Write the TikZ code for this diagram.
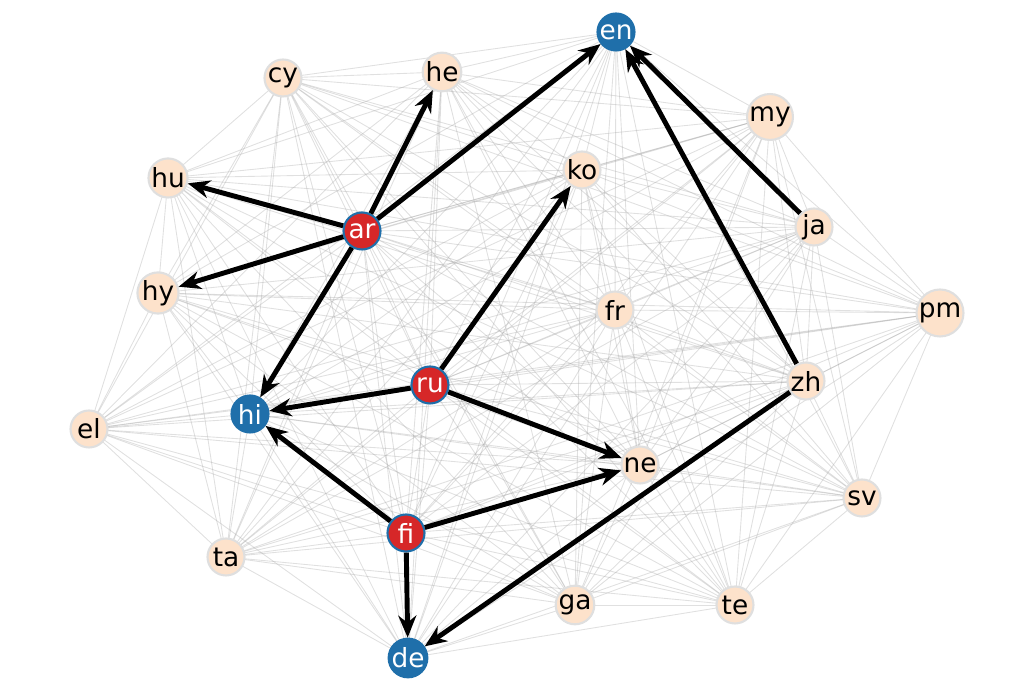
\documentclass[tikz,border=0pt]{standalone}
\usepackage{fontspec}
\setmainfont{DejaVu Sans}
\usetikzlibrary{arrows.meta}
\definecolor{lblue}{HTML}{1F6FAA}
\definecolor{lred}{HTML}{D62728}
\definecolor{lpeach}{HTML}{FDE2CB}
\tikzset{lang/.style={circle,draw=gray!25,line width=0.6pt,minimum size=0.37cm,inner sep=0pt,fill=lpeach,font=\fontsize{7.5}{8}\selectfont},
  src/.style={lang,fill=lred,draw=lblue,text=white},
  tgt/.style={lang,fill=lblue,draw=lblue,text=white},
  faint/.style={draw=gray!70,opacity=0.35,line width=0.25pt},
  strong/.style={-{Stealth[length=2.2mm,width=1.8mm]},line width=1.4pt}}
\begin{document}
\begin{tikzpicture}
\useasboundingbox (0,0) rectangle (10.24,-6.91);
% node positions
\foreach \n/\x/\y in {en/6.16/0.32,cy/2.83/0.78,he/4.42/0.72,my/7.70/1.17,hu/1.68/1.78,ko/5.82/1.70,
  ar/3.62/2.31,ja/8.14/2.27,hy/1.58/2.93,fr/6.15/3.10,pm/9.40/3.13,ru/4.30/3.85,zh/8.06/3.81,
  el/0.89/4.29,hi/2.50/4.14,ne/6.40/4.65,sv/8.62/4.98,fi/4.06/5.33,ta/2.26/5.57,ga/5.75/6.05,
  te/7.35/6.05,de/4.08/6.58}
  \coordinate (p-\n) at (\x,-\y);
% background edges
\foreach \a [count=\i] in {en,cy,he,my,hu,ko,ar,ja,hy,fr,pm,ru,zh,el,hi,ne,sv,fi,ta,ga,te,de}
  \foreach \b [count=\j] in {en,cy,he,my,hu,ko,ar,ja,hy,fr,pm,ru,zh,el,hi,ne,sv,fi,ta,ga,te,de}
    {\ifnum\j>\i \draw[faint] (p-\a) -- (p-\b);\fi}
% nodes
\foreach \n in {cy,he,my,hu,ko,ja,hy,fr,pm,zh,el,ne,sv,ta,ga,te}
  \node[lang] (\n) at (p-\n) {\n};
\foreach \n in {ar,ru,fi}
  \node[src] (\n) at (p-\n) {\n};
\foreach \n in {en,hi,de}
  \node[tgt] (\n) at (p-\n) {\n};
% highlighted edges
\foreach \s/\t in {ar/he,ar/en,ar/hu,ar/hy,ar/hi,ru/ko,ru/hi,ru/ne,fi/hi,fi/ne,fi/de,zh/en,ja/en,zh/de}
  \draw[strong] (\s) -- (\t);
\end{tikzpicture}
\end{document}
